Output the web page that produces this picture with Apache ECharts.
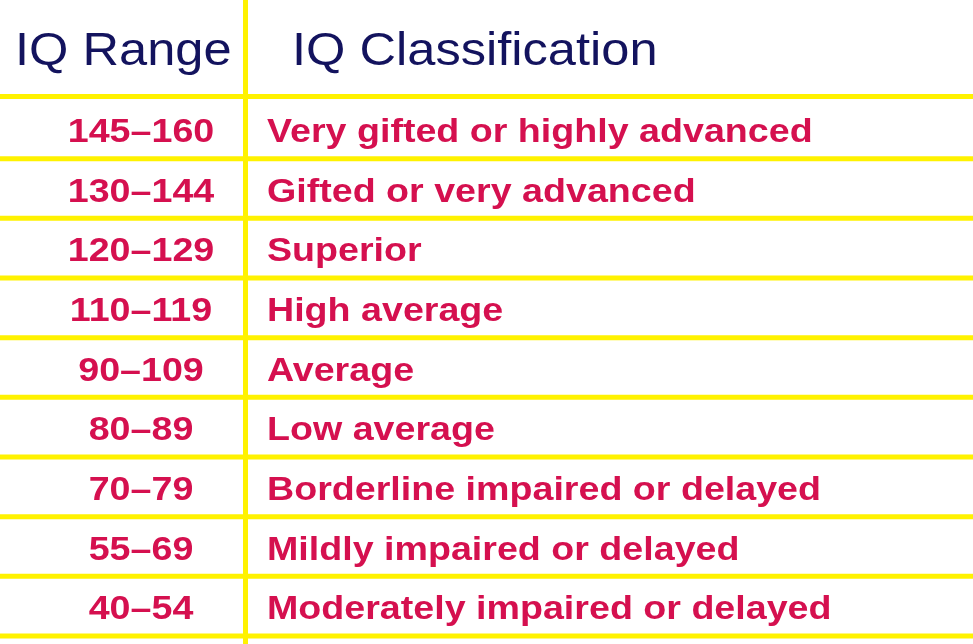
<!DOCTYPE html>
<html><head><meta charset="utf-8">
<script src="https://cdn.jsdelivr.net/npm/echarts@6/dist/echarts.min.js"></script>
<style>html,body{margin:0;padding:0;background:#fff}#c{width:973px;height:644px}</style>
</head><body><div id="c"></div>
<script>
const headers = ['IQ Range', 'IQ Classification'];
const ranges = ['145–160','130–144','120–129','110–119','90–109','80–89','70–79','55–69','40–54'];
const classes = ['Very gifted or highly advanced','Gifted or very advanced','Superior','High average','Average','Low average','Borderline impaired or delayed','Mildly impaired or delayed','Moderately impaired or delayed'];

const YEL = '#fff200', RED = '#d5104f', NAVY = '#13135e';
const HFONT = 'normal 46px "Liberation Sans", Arial';
const chart = echarts.init(document.getElementById('c'));
chart.setOption({
  animation: false,
  backgroundColor: '#fff',
  grid: {left: 0, right: 0, top: 99, bottom: 8},
  xAxis: {type: 'value', min: 0, max: 973, show: false},
  yAxis: {type: 'category', data: ranges, inverse: true, show: false},
  graphic: [
    {type: 'rect', shape: {x: 243, y: 0, width: 5, height: 644}, style: {fill: YEL}, z: 10},
    {type: 'rect', shape: {x: 0, y: 94, width: 973, height: 5}, style: {fill: YEL}, z: 10},
    {type: 'text', x: 15, y: 52, scaleX: 1.1, style: {text: headers[0], font: HFONT, fill: NAVY, verticalAlign: 'middle'}},
    {type: 'text', x: 292, y: 52, scaleX: 1.1, style: {text: headers[1], font: HFONT, fill: NAVY, verticalAlign: 'middle'}}
  ],
  series: [{
    type: 'custom',
    data: ranges.map((r, i) => [i]),
    renderItem: function (params, api) {
      const i = api.value(0);
      const p = api.coord([0, i]);
      const band = api.size([0, 1])[1];
      const cy = p[1] + 4;
      const font = 'bold 33px "Liberation Sans", Arial';
      return {type: 'group', children: [
        {type: 'rect', shape: {x: 0, y: p[1] + band / 2 - 2.5, width: 973, height: 5}, style: {fill: YEL}},
        {type: 'text', x: api.coord([141, i])[0], y: cy, scaleX: 1.14,
         style: {text: ranges[i], font: font, fill: RED, align: 'center', verticalAlign: 'middle'}},
        {type: 'text', x: api.coord([267, i])[0], y: cy, scaleX: 1.14,
         style: {text: classes[i], font: font, fill: RED, align: 'left', verticalAlign: 'middle'}}
      ]};
    }
  }]
});
</script></body></html>
